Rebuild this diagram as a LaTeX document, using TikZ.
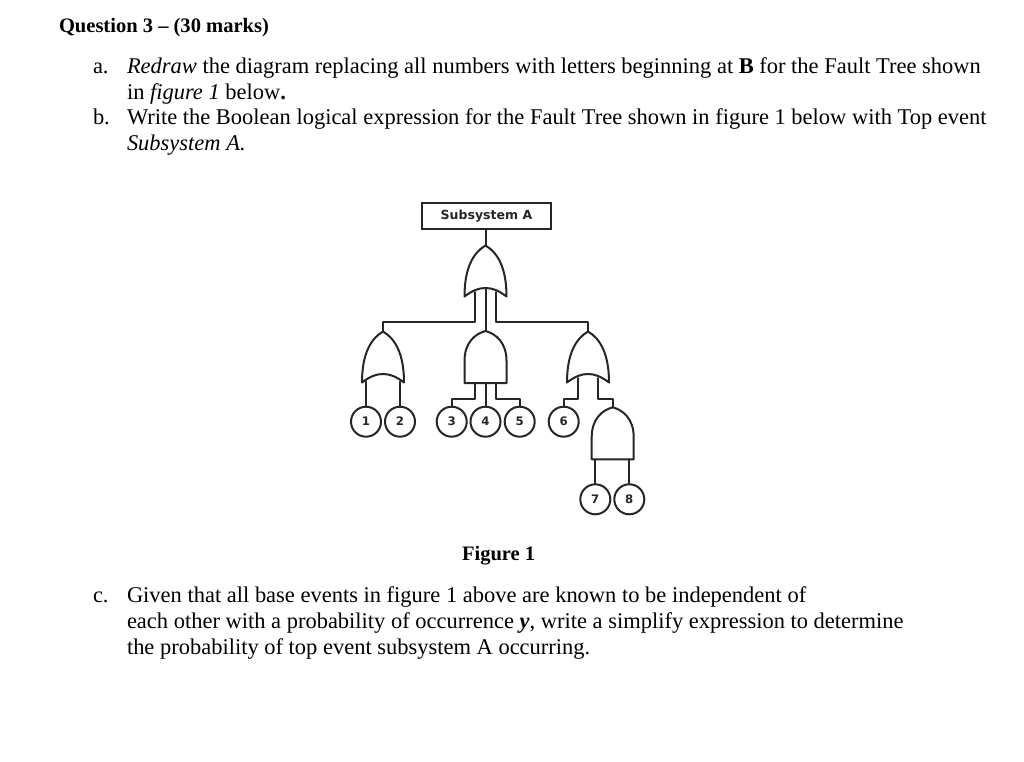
\documentclass[tikz,border=0pt]{standalone}
\usepackage{fontspec}
\setmainfont{Liberation Serif}
\newfontfamily\diagfont{DejaVu Sans}
\definecolor{ink}{gray}{0.15}
\tikzset{
  txt/.style={anchor=base west,inner sep=0pt,outer sep=0pt,font=\fontsize{16.86pt}{18pt}\selectfont,text=black},
  head/.style={txt,font=\bfseries\fontsize{15.4pt}{18pt}\selectfont},
  wire/.style={draw=ink,line width=1.5pt,line cap=round,line join=round},
  evt/.style={circle,draw=ink,line width=1.5pt,minimum size=22.5pt,inner sep=0pt,text height=6.4pt,text depth=0pt,font=\diagfont\bfseries\fontsize{8.8pt}{9pt}\selectfont,text=ink},
  topbox/.style={rectangle,draw=ink,line width=1.4pt,minimum width=96.5pt,minimum height=19.5pt,inner sep=0pt,font=\diagfont\bfseries\fontsize{9.4pt}{10pt}\selectfont,text=ink}
}
% OR gate: apex at (#2,#3)
\newcommand{\orgate}[3]{%
  \coordinate (#1-top) at (#2,#3);
  \coordinate (#1-a) at (#2-10.3,#3+46.5);
  \coordinate (#1-b) at (#2,#3+43);
  \coordinate (#1-c) at (#2+10.3,#3+46.5);
  \coordinate (#1-d) at (#2-17,#3+50);
  \coordinate (#1-e) at (#2+17,#3+50);
  \draw[wire] (#2,#3) .. controls (#2-12,#3+7) and (#2-21,#3+22) .. (#2-21,#3+51)
    .. controls (#2-13,#3+45) and (#2-7,#3+42.5) .. (#2,#3+42.5)
    .. controls (#2+7,#3+42.5) and (#2+13,#3+45) .. (#2+21,#3+51)
    .. controls (#2+21,#3+22) and (#2+12,#3+7) .. cycle;
}
% AND gate: apex at (#2,#3)
\newcommand{\andgate}[3]{%
  \coordinate (#1-top) at (#2,#3);
  \coordinate (#1-a) at (#2-10.5,#3+52);
  \coordinate (#1-b) at (#2,#3+52);
  \coordinate (#1-c) at (#2+10.5,#3+52);
  \coordinate (#1-d) at (#2-17.3,#3+52);
  \coordinate (#1-e) at (#2+16.7,#3+52);
  \draw[wire] (#2-21,#3+52) -- (#2-21,#3+30)
    .. controls (#2-21,#3+12) and (#2-11,#3+3) .. (#2,#3)
    .. controls (#2+11,#3+3) and (#2+21,#3+12) .. (#2+21,#3+30)
    -- (#2+21,#3+52) -- cycle;
}
\begin{document}
\begin{tikzpicture}[x=0.75pt,y=-0.75pt]
\useasboundingbox (0,0) rectangle (1024,761);
% Text
\node[head] (q) at (59,32) {Question 3 – (30 marks)};
\node[txt] (la) at (93,73) {a.};
\node[txt] (a1) at (127,73) {\textit{Redraw} the diagram replacing all numbers with letters beginning at \textbf{B} for the Fault Tree shown};
\node[txt] (a2) at (127,99) {in \textit{figure 1} below\textbf{.}};
\node[txt] (lb) at (93,124) {b.};
\node[txt] (b1) at (127,124) {Write the Boolean logical expression for the Fault Tree shown in figure 1 below with Top event};
\node[txt] (b2) at (127,150) {\textit{Subsystem A.}};
\node[head] (fig) at (462,560) {Figure 1};
\node[txt] (lc) at (93,602) {c.};
\node[txt] (c1) at (127,602) {Given that all base events in figure 1 above are known to be independent of};
\node[txt] (c2) at (127,628) {each other with a probability of occurrence \textbf{\textit{y}}, write a simplify expression to determine};
\node[txt] (c3) at (127,654) {the probability of top event subsystem A occurring.};
% Diagram
\node[topbox] (top) at (486.5,216) {Subsystem A};
\orgate{g0}{485.5}{245.5}
\orgate{g1}{383}{331.5}
\andgate{g2}{485.5}{331}
\orgate{g3}{588}{331.5}
\andgate{g4}{612.7}{407.3}
\node[evt] (e1) at (366,421.7) {1};
\node[evt] (e2) at (400,421.7) {2};
\node[evt] (e3) at (451.7,421.7) {3};
\node[evt] (e4) at (485.5,421.7) {4};
\node[evt] (e5) at (519.7,421.7) {5};
\node[evt] (e6) at (563.7,421.7) {6};
\node[evt] (e7) at (595.3,499.3) {7};
\node[evt] (e8) at (629.3,499.3) {8};
% Junction rows
\coordinate (busy) at (0,322);
\coordinate (lowy) at (0,399);
% Connectors
\draw[wire] (top.south -| g0-top) -- (g0-top);
\draw[wire] (g0-a) -- (g0-a |- busy) -- (g1-top |- busy) -- (g1-top);
\draw[wire] (g0-b) -- (g2-top);
\draw[wire] (g0-c) -- (g0-c |- busy) -- (g3-top |- busy) -- (g3-top);
\draw[wire] (g1-d) -- (g1-d |- e1.north);
\draw[wire] (g1-e) -- (g1-e |- e2.north);
\draw[wire] (g2-a) -- (g2-a |- lowy) -- (e3.north |- lowy) -- (e3.north);
\draw[wire] (g2-b) -- (e4.north);
\draw[wire] (g2-c) -- (g2-c |- lowy) -- (e5.north |- lowy) -- (e5.north);
\draw[wire] (g3-a) -- (g3-a |- lowy) -- (e6.north |- lowy) -- (e6.north);
\draw[wire] (g3-c) -- (g3-c |- lowy) -- (g4-top |- lowy) -- (g4-top);
\draw[wire] (g4-d) -- (g4-d |- e7.north);
\draw[wire] (g4-e) -- (g4-e |- e8.north);
\end{tikzpicture}
\end{document}
